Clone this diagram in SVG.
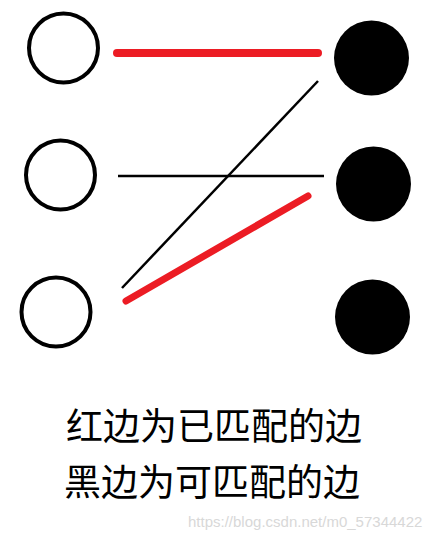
<svg xmlns="http://www.w3.org/2000/svg" width="444" height="541" viewBox="0 0 444 541">
<style>
.l{fill:#fff;stroke:#000;stroke-width:4}
.r{fill:#000}
.red{stroke:#ec1c24;stroke-linecap:round;fill:none}
.blk{stroke:#000;stroke-width:2.5;fill:none}
.t{font-family:"Noto Sans CJK SC","Noto Sans",sans-serif;font-size:37px;fill:#000}
.w{font-family:"Liberation Sans",Arial,sans-serif;font-size:15px;fill:#d8d8d8}
</style>
<rect width="444" height="541" fill="#fff"/>
<g id="connectors">
<line class="red" x1="117" y1="53" x2="318" y2="53" stroke-width="8"/>
<line class="blk" x1="118" y1="176" x2="324" y2="176"/>
<line class="blk" x1="318" y1="81" x2="122" y2="288"/>
<line class="red" x1="308" y1="196" x2="126" y2="301" stroke-width="7"/>
</g>
<g id="L1"><circle class="l" cx="63.5" cy="48" r="34.5"/></g>
<g id="L2"><circle class="l" cx="60.5" cy="175" r="34.5"/></g>
<g id="L3"><circle class="l" cx="56" cy="312" r="34.5"/></g>
<g id="R1"><circle class="r" cx="371.5" cy="58" r="37.5"/></g>
<g id="R2"><circle class="r" cx="373.5" cy="184" r="37.5"/></g>
<g id="R3"><circle class="r" cx="372.5" cy="317" r="37.5"/></g>
<g id="legend">
<text class="t" x="66" y="440">红边为已匹配的边</text>
<text class="t" x="64" y="496">黑边为可匹配的边</text>
<text class="w" x="188" y="527">https://blog.csdn.net/m0_57344422</text>
</g>
</svg>
